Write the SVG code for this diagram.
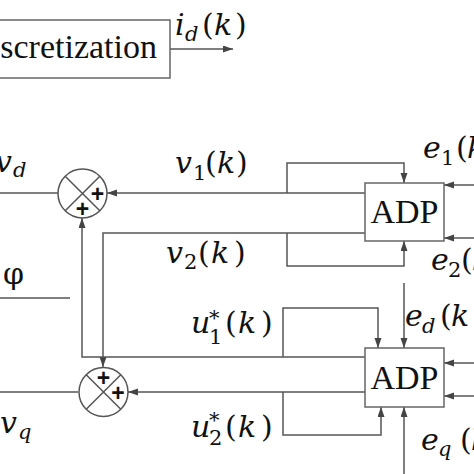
<svg xmlns="http://www.w3.org/2000/svg" width="474" height="474" viewBox="0 0 474 474">
<style>
.ln{fill:none;stroke:#555;stroke-width:1.5}
.box{fill:#fff;stroke:#666;stroke-width:1.5}
.bt{font-family:"Liberation Serif",serif;font-size:34px;fill:#111}
.m{font-family:"DejaVu Serif",serif;font-size:30px;fill:#111}
.i{font-style:italic}
.s{font-size:21px}
.pl{font-family:"Liberation Sans",sans-serif;font-weight:bold;font-size:23px;fill:#111;text-anchor:middle}
</style>
<defs>
<marker id="ah" markerWidth="11" markerHeight="8" refX="10" refY="3.5" orient="auto" markerUnits="userSpaceOnUse">
<path d="M0,0 L10,3.5 L0,7 z" fill="#444"/>
</marker>
</defs>
<rect width="474" height="474" fill="#fff"/>

<g id="connectors">
<line class="ln" x1="170" y1="49" x2="233" y2="49" marker-end="url(#ah)"/>
<line class="ln" x1="0" y1="193" x2="58" y2="193"/>
<line class="ln" x1="365" y1="193" x2="107" y2="193" marker-end="url(#ah)"/>
<polyline class="ln" points="287,193 287,163 404,163 404,183" marker-end="url(#ah)"/>
<polyline class="ln" points="365,233 103,233 103,367" marker-end="url(#ah)"/>
<polyline class="ln" points="287,233 287,266 404,266 404,241" marker-end="url(#ah)"/>
<line class="ln" x1="474" y1="185" x2="444" y2="185" marker-end="url(#ah)"/>
<line class="ln" x1="474" y1="238" x2="444" y2="238" marker-end="url(#ah)"/>
<line class="ln" x1="404" y1="283" x2="404" y2="348" marker-end="url(#ah)"/>
<line class="ln" x1="0" y1="298" x2="70" y2="298"/>
<polyline class="ln" points="365,357 82,357 82,218" marker-end="url(#ah)"/>
<polyline class="ln" points="283,357 283,308 378,308 378,348" marker-end="url(#ah)"/>
<line class="ln" x1="365" y1="392" x2="128" y2="392" marker-end="url(#ah)"/>
<polyline class="ln" points="283,392 283,435 381,435 381,407" marker-end="url(#ah)"/>
<line class="ln" x1="0" y1="392" x2="78" y2="392"/>
<line class="ln" x1="474" y1="363" x2="444" y2="363" marker-end="url(#ah)"/>
<line class="ln" x1="474" y1="396" x2="444" y2="396" marker-end="url(#ah)"/>
<line class="ln" x1="404" y1="474" x2="404" y2="407" marker-end="url(#ah)"/>
</g>

<g id="discretization">
<rect class="box" x="-10" y="20" width="180" height="58"/>
<text class="bt" x="157" y="58" text-anchor="end">Discretization</text>
</g>

<g id="adp1">
<rect class="box" x="365" y="183" width="79" height="58"/>
<text class="bt" x="404.5" y="223" text-anchor="middle" font-size="31">ADP</text>
</g>

<g id="adp2">
<rect class="box" x="365" y="348" width="79" height="59"/>
<text class="bt" x="404.5" y="389" text-anchor="middle" font-size="31">ADP</text>
</g>

<g id="sum1">
<circle cx="82.5" cy="193.5" r="24.5" fill="#fff" stroke="#555" stroke-width="1.5"/>
<path class="ln" d="M65.2,176.2 L99.8,210.8 M99.8,176.2 L65.2,210.8"/>
<text class="pl" x="97.5" y="202">+</text>
<text class="pl" x="82.5" y="216.5">+</text>
</g>

<g id="sum2">
<circle cx="103.5" cy="392" r="24.5" fill="#fff" stroke="#555" stroke-width="1.5"/>
<path class="ln" d="M86.2,374.7 L120.8,409.3 M120.8,374.7 L86.2,409.3"/>
<text class="pl" x="103.5" y="386">+</text>
<text class="pl" x="118" y="400.5">+</text>
</g>

<g id="labels">
<text class="m"><tspan class="i" x="175" y="35">i</tspan><tspan class="i s" x="185" y="41">d</tspan><tspan x="202" y="35">(</tspan><tspan class="i" x="214" y="35">k</tspan><tspan x="235" y="35">)</tspan></text>
<text class="m"><tspan class="i" x="175" y="173">v</tspan><tspan class="s" x="193" y="180">1</tspan><tspan x="205" y="173">(</tspan><tspan class="i" x="217" y="173">k</tspan><tspan x="236" y="173">)</tspan></text>
<text class="m"><tspan class="i" x="166" y="263">v</tspan><tspan class="s" x="184" y="269">2</tspan><tspan x="198" y="263">(</tspan><tspan class="i" x="211" y="263">k</tspan><tspan x="234" y="263">)</tspan></text>
<text class="m"><tspan class="i" x="191" y="333">u</tspan><tspan class="s" x="209" y="325">*</tspan><tspan class="s" x="209" y="344">1</tspan><tspan x="225" y="333">(</tspan><tspan class="i" x="238" y="333">k</tspan><tspan x="261" y="333">)</tspan></text>
<text class="m"><tspan class="i" x="191" y="437">u</tspan><tspan class="s" x="209" y="427">*</tspan><tspan class="s" x="209" y="445">2</tspan><tspan x="225" y="437">(</tspan><tspan class="i" x="238" y="437">k</tspan><tspan x="261" y="437">)</tspan></text>
<text class="m"><tspan class="i" x="423" y="158">e</tspan><tspan class="s" x="441" y="165">1</tspan><tspan x="456" y="158">(</tspan><tspan class="i" x="467" y="158">k</tspan></text>
<text class="m"><tspan class="i" x="431" y="270">e</tspan><tspan class="s" x="448" y="277">2</tspan><tspan x="461" y="270">(</tspan><tspan class="i" x="472" y="270">k</tspan></text>
<text class="m"><tspan class="i" x="405" y="326">e</tspan><tspan class="i s" x="422" y="333">d</tspan><tspan x="440" y="326">(</tspan><tspan class="i" x="451" y="326">k</tspan></text>
<text class="m"><tspan class="i" x="421" y="450">e</tspan><tspan class="i s" x="438" y="456">q</tspan><tspan x="460" y="450">(</tspan><tspan class="i" x="471" y="450">k</tspan></text>
<text class="m"><tspan class="i" x="-5" y="172">v</tspan><tspan class="i s" x="13" y="177">d</tspan></text>
<text class="m" x="3" y="284">φ</text>
<text class="m"><tspan class="i" x="0" y="433">v</tspan><tspan class="i s" x="18" y="439">q</tspan></text>
</g>
</svg>
